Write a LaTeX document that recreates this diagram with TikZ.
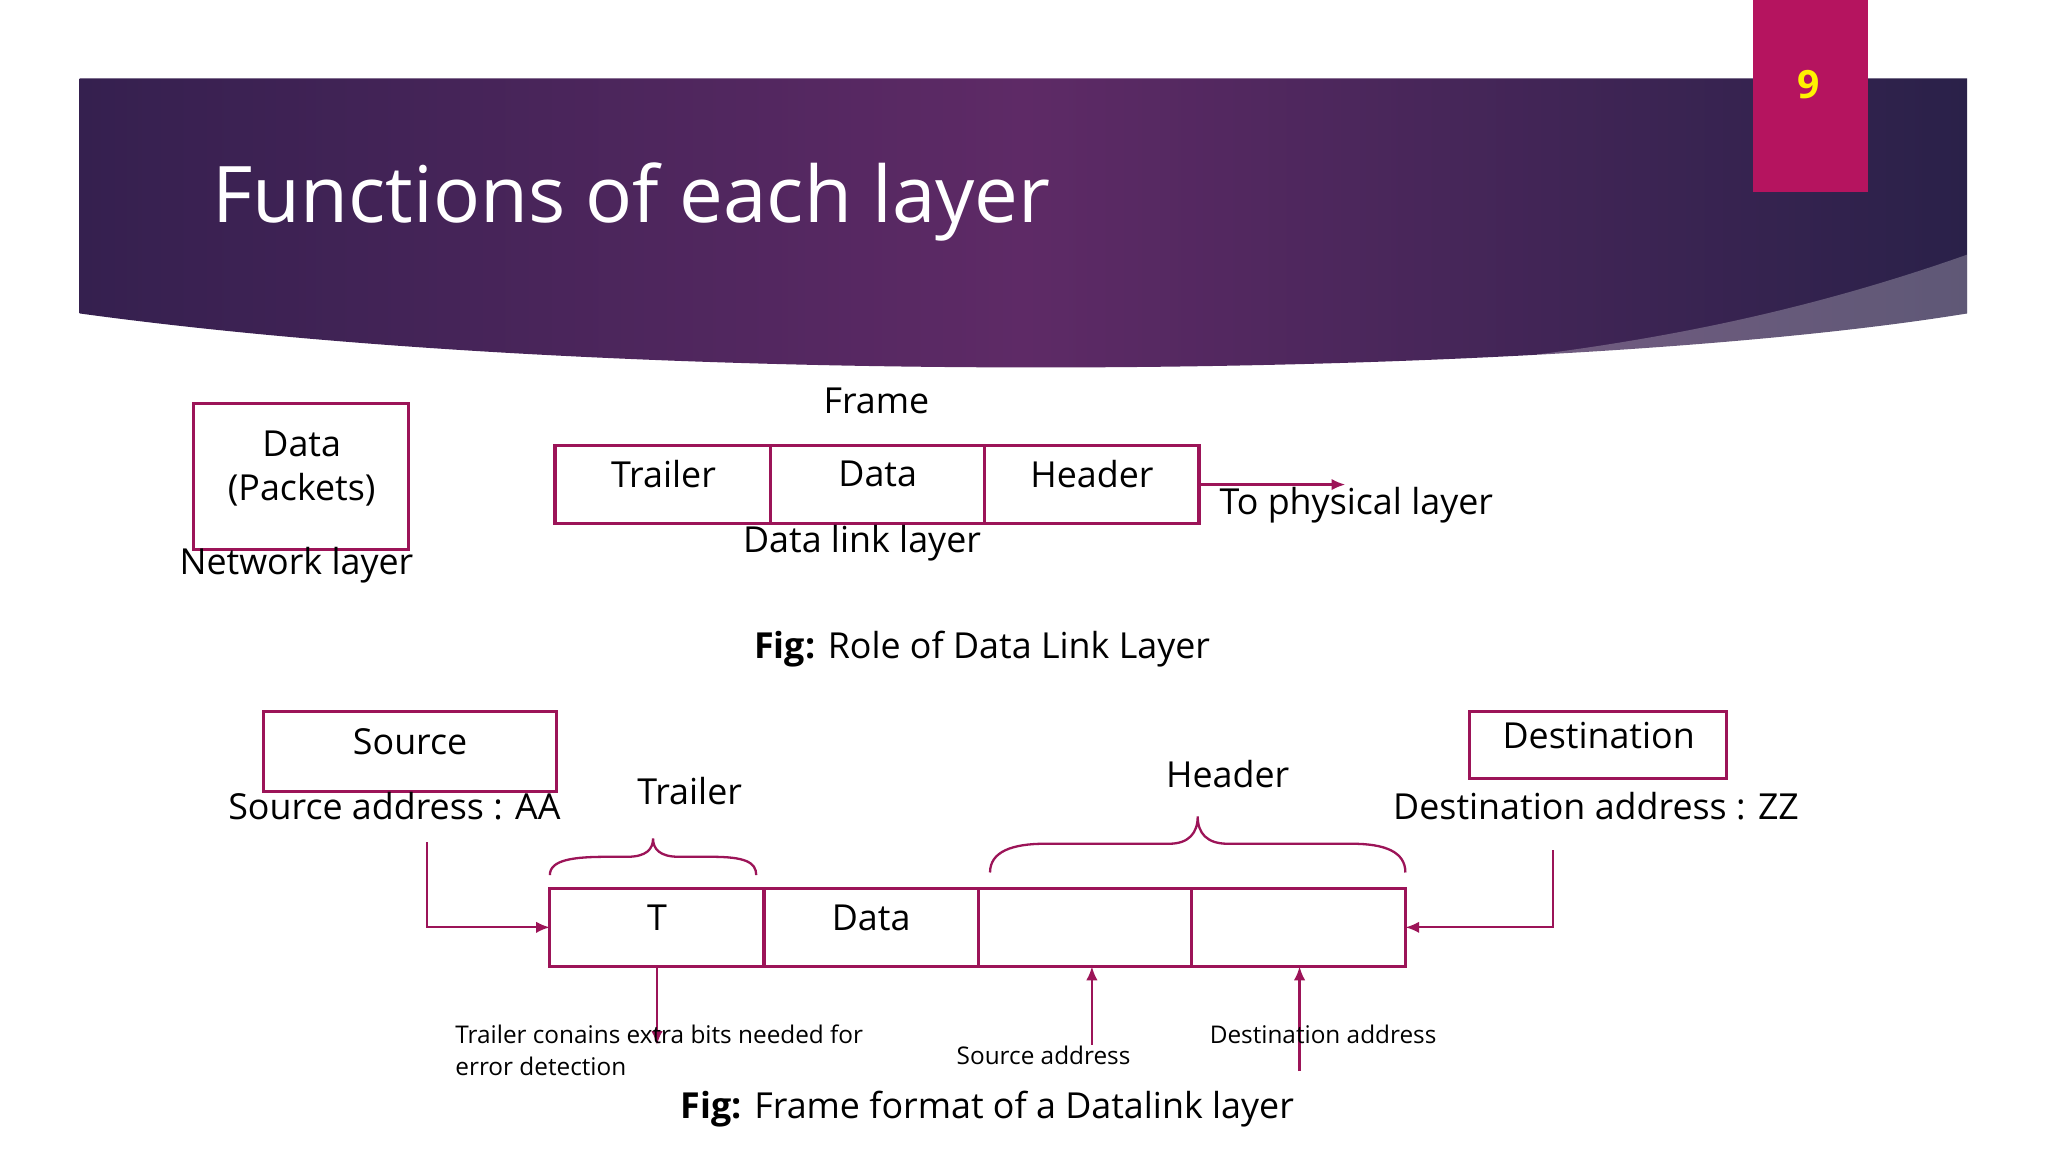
\documentclass[tikz,border=0pt]{standalone}
\usepackage{fontspec}
\setmainfont{Open Sans}
\usetikzlibrary{arrows.meta}
\definecolor{mag}{HTML}{9C1458}
\definecolor{tab}{HTML}{B5145F}
\definecolor{pA}{HTML}{35204F}
\definecolor{pB}{HTML}{5E2A66}
\definecolor{pC}{HTML}{2A2149}
\begin{document}
\begin{tikzpicture}[x=0.01cm,y=-0.01cm,
  box/.style={draw=mag,line width=0.7pt,minimum height=60\pgflinewidth,inner sep=0},
  t/.style={font=\fontsize{7.8}{9}\selectfont,inner sep=0},
  s/.style={font=\fontsize{5.3}{7}\selectfont,inner sep=0},
  ar/.style={draw=mag,line width=0.5pt,-{Latex[length=3pt,width=2.5pt]}},
  br/.style={draw=mag,line width=0.5pt}]
\useasboundingbox (0,0) rectangle (1568,882);
\fill[white] (0,0) rectangle (1568,882);
% banner
\shade[left color=pA,right color=pC,middle color=pB] (61,60) -- (1506,60) -- (1506,240) .. controls (1200,290) and (500,300) .. (61,240) -- cycle;
\fill[white,opacity=0.25] (1506,195) .. controls (1350,250) and (1200,275) .. (1000,288) .. controls (1250,280) and (1400,262) .. (1506,240) -- cycle;
\node[anchor=west,white,inner sep=0,font=\fontsize{17}{20}\selectfont] (title) at (162,155) {Functions of each layer};
\fill[tab] (1342,0) rectangle (1430,147);
\node[yellow,font=\bfseries\fontsize{8.5}{10}\selectfont] (num) at (1385,65) {9};
% top figure
\draw[mag,line width=0.7pt] (148,309) rectangle (313,421);
\node[t] (d1) at (231,340) {Data};
\node[t] (d2) at (231,375) {(Packets)};
\node[t] (nl) at (227,433) {Network layer};
\node[t] (fr) at (671,307) {Frame};
\draw[mag,line width=0.7pt] (425,341) rectangle (918,401);
\draw[mag,line width=0.7pt] (590,341) -- (590,401) (754,341) -- (754,401);
\node[t] (tr) at (508,363) {Trailer};
\node[t] (da) at (672,363) {Data};
\node[t] (he) at (836,363) {Header};
\node[t] (dll) at (660,416) {Data link layer};
\coordinate (ph0) at (918,371);
\coordinate (ph1) at (1030,371);
\draw[ar] (ph0) -- (ph1);
\node[t,anchor=west] (tp) at (933,387) {To physical layer};
\node[t] (fig1) at (752,497) {\textbf{Fig:} Role of Data Link Layer};
% bottom figure
\draw[mag,line width=0.7pt] (202,545) rectangle (426,606);
\node[t] (so) at (314,568) {Source};
\node[t] (sa) at (302,617) {Source address : AA};
\draw[mag,line width=0.7pt] (1125,545) rectangle (1322,596);
\node[t] (de) at (1224,563) {Destination};
\node[t] (dza) at (1222,617) {Destination address : ZZ};
\draw[mag,line width=0.7pt] (421,680) rectangle (1076,740);
\draw[mag,line width=0.7pt] (585,680) -- (585,740) (749,680) -- (749,740) (912,680) -- (912,740);
\node[t] (T) at (503,703) {T};
\node[t] (D) at (667,703) {Data};
\node[t] (tl) at (528,606) {Trailer};
\node[t] (hl) at (940,593) {Header};
\draw[br] (421,670) .. controls (421,658) and (440,656) .. (465,656) -- (480,656) .. controls (495,656) and (500,650) .. (500,642)
  .. controls (500,650) and (505,656) .. (520,656) -- (545,656) .. controls (570,656) and (579,660) .. (579,670);
\draw[br] (758,668) .. controls (758,652) and (775,646) .. (800,646) -- (895,646) .. controls (910,646) and (917,638) .. (917,625)
  .. controls (917,638) and (924,646) .. (940,646) -- (1035,646) .. controls (1060,646) and (1076,652) .. (1076,668);
\coordinate (a0) at (327,645);
\coordinate (a1) at (421,710);
\draw[ar] (a0) |- (a1);
\coordinate (b0) at (1189,651);
\coordinate (b1) at (1076,710);
\draw[ar] (b0) |- (b1);
\draw[ar] (503,740) -- (503,800);
\draw[ar] (836,800) -- (836,740);
\draw[ar] (995,820) -- (995,740);
\node[s,anchor=west,align=left] (tc) at (348,804) {Trailer conains extra bits needed for\\error detection};
\node[s] (sal) at (799,808) {Source address};
\node[s] (dal) at (1013,792) {Destination address};
\node[t] (fig2) at (756,849) {\textbf{Fig:} Frame format of a Datalink layer};
\end{tikzpicture}
\end{document}
